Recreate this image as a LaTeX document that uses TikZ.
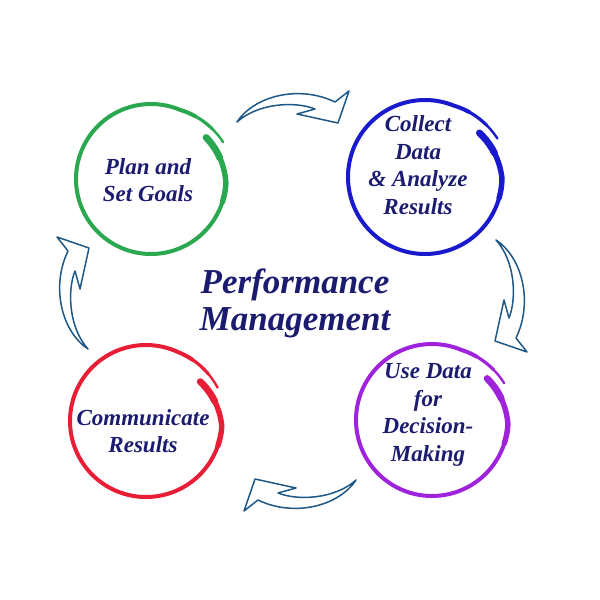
\documentclass[tikz,border=0pt]{standalone}
\usepackage{fontspec}
\setmainfont{Liberation Serif}
\definecolor{txt}{RGB}{27,27,112}
\definecolor{arr}{RGB}{30,88,135}
\definecolor{cgreen}{RGB}{42,168,80}
\definecolor{cblue}{RGB}{25,25,205}
\definecolor{cpurple}{RGB}{160,35,220}
\definecolor{cred}{RGB}{232,30,55}
\tikzset{
  lbl/.style={font=\fontsize{11.5}{13.75}\selectfont\bfseries\itshape, text=txt, align=center, inner sep=0pt},
  ttl/.style={font=\fontsize{17.5}{18.5}\selectfont\bfseries\itshape, text=txt, align=center, inner sep=0pt},
  arrowline/.style={draw=arr, line width=0.75pt, line join=round, fill=white},
  pics/curvedarrow/.style={code={
    \draw[arrowline] (-56,15) .. controls (-38,-12) and (7,-22) .. (42,-5) -- (56,-16) -- (45,16) -- (4,7) -- (22,2) .. controls (2,-6) and (-35,-4) .. cycle;
  }}
}
% color, cx, cy, R, start angle, start r, end angle, end r
\newcommand\drawring[8]{%
  \def\ringr{(#4-(#4-#6)*max(0,1-(\x-#5)/40)+(#8-#4)*max(0,(\x-#7+40)/40))}%
  \pgfmathsetmacro\ringA{#5+20}\pgfmathsetmacro\ringB{#5+55}%
  \pgfmathsetmacro\ringC{#7-28}\pgfmathsetmacro\ringD{#7-12}%
  \draw[#1,line width=2pt,line cap=round] plot[domain=#5:\ringC,samples=200] ({#2+\ringr*cos(\x)},{#3+\ringr*sin(\x)});
  \draw[#1,line width=1.6pt,line cap=round] plot[domain=\ringC:\ringD,samples=20] ({#2+\ringr*cos(\x)},{#3+\ringr*sin(\x)});
  \draw[#1,line width=1.2pt,line cap=round] plot[domain=\ringD:#7,samples=20] ({#2+\ringr*cos(\x)},{#3+\ringr*sin(\x)});
  \draw[#1,line width=2.7pt,line cap=round] plot[domain=#5:\ringB,samples=40] ({#2+\ringr*cos(\x)},{#3+\ringr*sin(\x)});
  \draw[#1,line width=3.4pt,line cap=round] plot[domain=#5:\ringA,samples=20] ({#2+\ringr*cos(\x)},{#3+\ringr*sin(\x)});
}
\begin{document}
\begin{tikzpicture}[x=0.5pt,y=-0.5pt]
\fill[white] (0,0) rectangle (600,600);
\useasboundingbox (0,0) rectangle (600,600);

% rings
\drawring{cgreen}{151}{179}{75}{-37}{69}{333}{81}
\drawring{cblue}{425}{177}{77}{-39}{70}{332}{82}
\drawring{cpurple}{432}{420}{76}{-37}{69}{333}{81}
\drawring{cred}{146}{421}{76}{-36}{67}{335}{79}

% arrows
\pic at (293,107) {curvedarrow};
\pic[rotate=-90] at (511,296) {curvedarrow};
\pic[rotate=180] at (300,495) {curvedarrow};
\pic[rotate=90] at (73,293) {curvedarrow};

% labels
\node[lbl] (plan) at (148,180) {Plan and\\Set Goals};
\node[lbl] (collect) at (418,165) {Collect\\Data\\\& Analyze\\Results};
\node[lbl] (use) at (428,415) {Use Data\\for\\Decision-\\Making};
\node[lbl] (comm) at (143,431) {Communicate\\Results};
\node[ttl] (title) at (295,303) {Performance\\Management};
\end{tikzpicture}
\end{document}
